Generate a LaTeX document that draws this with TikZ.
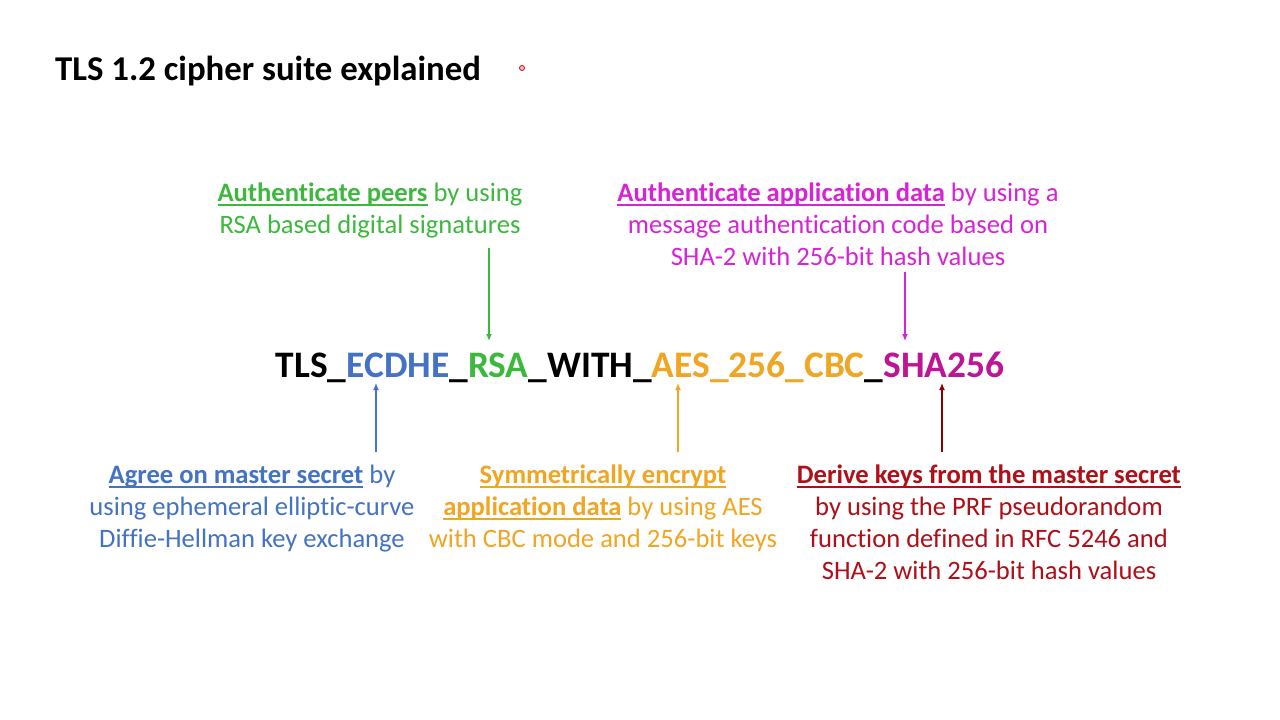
\documentclass[tikz,border=0pt]{standalone}
\usepackage{fontspec}
\setmainfont[Ligatures=NoCommon]{Carlito}
\usetikzlibrary{arrows.meta}
\definecolor{cblue}{RGB}{68,114,196}
\definecolor{cgreen}{RGB}{60,185,60}
\definecolor{corange}{RGB}{240,165,35}
\definecolor{cmag}{RGB}{215,35,215}
\definecolor{csha}{RGB}{190,20,150}
\definecolor{cred}{RGB}{175,15,25}
\definecolor{cdred}{RGB}{140,0,0}
\newcommand{\myul}[1]{\setbox0\hbox{#1}\rlap{\rule[-4pt]{\wd0}{1.6pt}}\box0\relax}
\tikzset{
  lbl/.style={align=center, inner sep=0pt, anchor=north, font=\fontsize{26.6}{32}\selectfont},
  conn/.style={-{Latex[length=7pt,width=6pt]}, line width=1.3pt}
}
\begin{document}
\begin{tikzpicture}[x=1pt,y=-1pt]
\useasboundingbox (0,0) rectangle (1280,720);
\fill[white] (0,0) rectangle (1280,720);
\node[anchor=base west, inner sep=0pt, font=\fontsize{34.8}{40}\selectfont\bfseries] (title) at (55,80) {TLS 1.2 cipher suite explained};
\draw[red!80!black, fill=red!25, line width=0.8pt] (522,68) circle (2.5);
\node[anchor=base, inner sep=0pt, font=\fontsize{37.4}{44}\selectfont\bfseries] (suite) at (640,377)
  {TLS\_\textcolor{cblue}{ECDHE}\_\textcolor{cgreen}{RSA}\_WITH\_\textcolor{corange}{AES\_256\_CBC}\_\textcolor{csha}{SHA256}};
% labels
\node[lbl, text=cgreen] (auth) at (370,183) {\myul{\textbf{Authenticate peers}} by using\\RSA based digital signatures};
\node[lbl, text=cmag] (mac) at (838,183) {\myul{\textbf{Authenticate application data}} by using a\\message authentication code based on\\SHA-2 with 256-bit hash values};
\node[lbl, text=cblue] (kex) at (252,465) {\myul{\textbf{Agree on master secret}} by\\using ephemeral elliptic-curve\\Diffie-Hellman key exchange};
\node[lbl, text=corange] (enc) at (603,465) {\myul{\textbf{Symmetrically encrypt}}\\\myul{\textbf{application data}} by using AES\\with CBC mode and 256-bit keys};
\node[lbl, text=cred] (prf) at (989,465) {\myul{\textbf{Derive keys from the master secret}}\\by using the PRF pseudorandom\\function defined in RFC 5246 and\\SHA-2 with 256-bit hash values};
% connector endpoints
\coordinate (g1) at (489,248); \coordinate (g2) at (489,341);
\coordinate (m1) at (905,272); \coordinate (m2) at (905,341);
\coordinate (b1) at (376,452); \coordinate (b2) at (376,383);
\coordinate (o1) at (678,452); \coordinate (o2) at (678,383);
\coordinate (r1) at (942,452); \coordinate (r2) at (942,383);
\draw[conn, cgreen] (g1) -- (g2);
\draw[conn, cmag] (m1) -- (m2);
\draw[conn, cblue] (b1) -- (b2);
\draw[conn, corange] (o1) -- (o2);
\draw[conn, cdred] (r1) -- (r2);
\end{tikzpicture}
\end{document}
